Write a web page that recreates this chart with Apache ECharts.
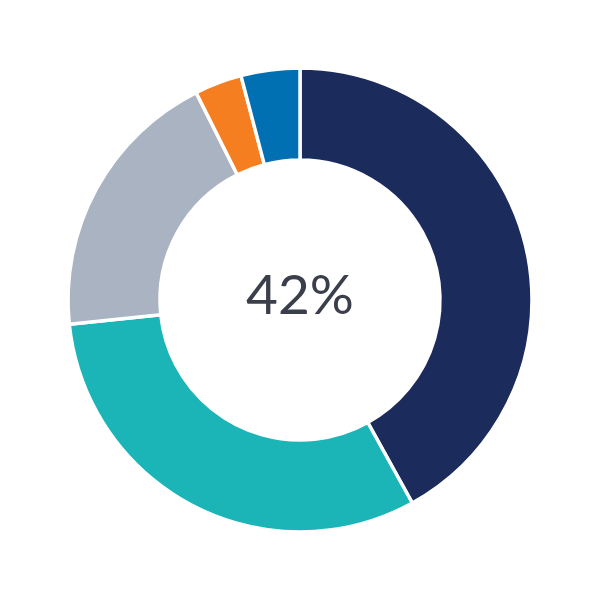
<!DOCTYPE html>
<html>
<head>
<meta charset="utf-8">
<script src="https://cdn.jsdelivr.net/npm/echarts@6/dist/echarts.min.js"></script>
<style>
  html, body { margin: 0; padding: 0; background: #fff; }
  #chart { width: 600px; height: 600px; }
</style>
</head>
<body>
<div id="chart"></div>
<script>
// slice data, clockwise from 12 o'clock
const names = ['A', 'B', 'C', 'D', 'E'];
const values = [42, 31.4, 19.3, 3.3, 4.1];
const colors = ['#1b2b5b', '#1bb4b7', '#a9b3c1', '#f47e20', '#0070b3'];
const centerLabel = '42%';

const chart = echarts.init(document.getElementById('chart'));

chart.setOption({
    animation: false,
    graphic: [{
        type: 'text',
        left: 'center',
        top: 269,
        style: {
            text: centerLabel,
            fontFamily: 'Lato',
            fontSize: 55,
            fill: '#3a3f4b'
        }
    }],
    series: [{
        type: 'pie',
        center: [300, 300],
        radius: [140, 232],
        startAngle: 90,
        clockwise: true,
        label: { show: false },
        labelLine: { show: false },
        itemStyle: { borderColor: '#fff', borderWidth: 3.5 },
        data: names.map((n, i) => ({
            name: n,
            value: values[i],
            itemStyle: { color: colors[i] }
        }))
    }]
});
</script>
</body>
</html>
